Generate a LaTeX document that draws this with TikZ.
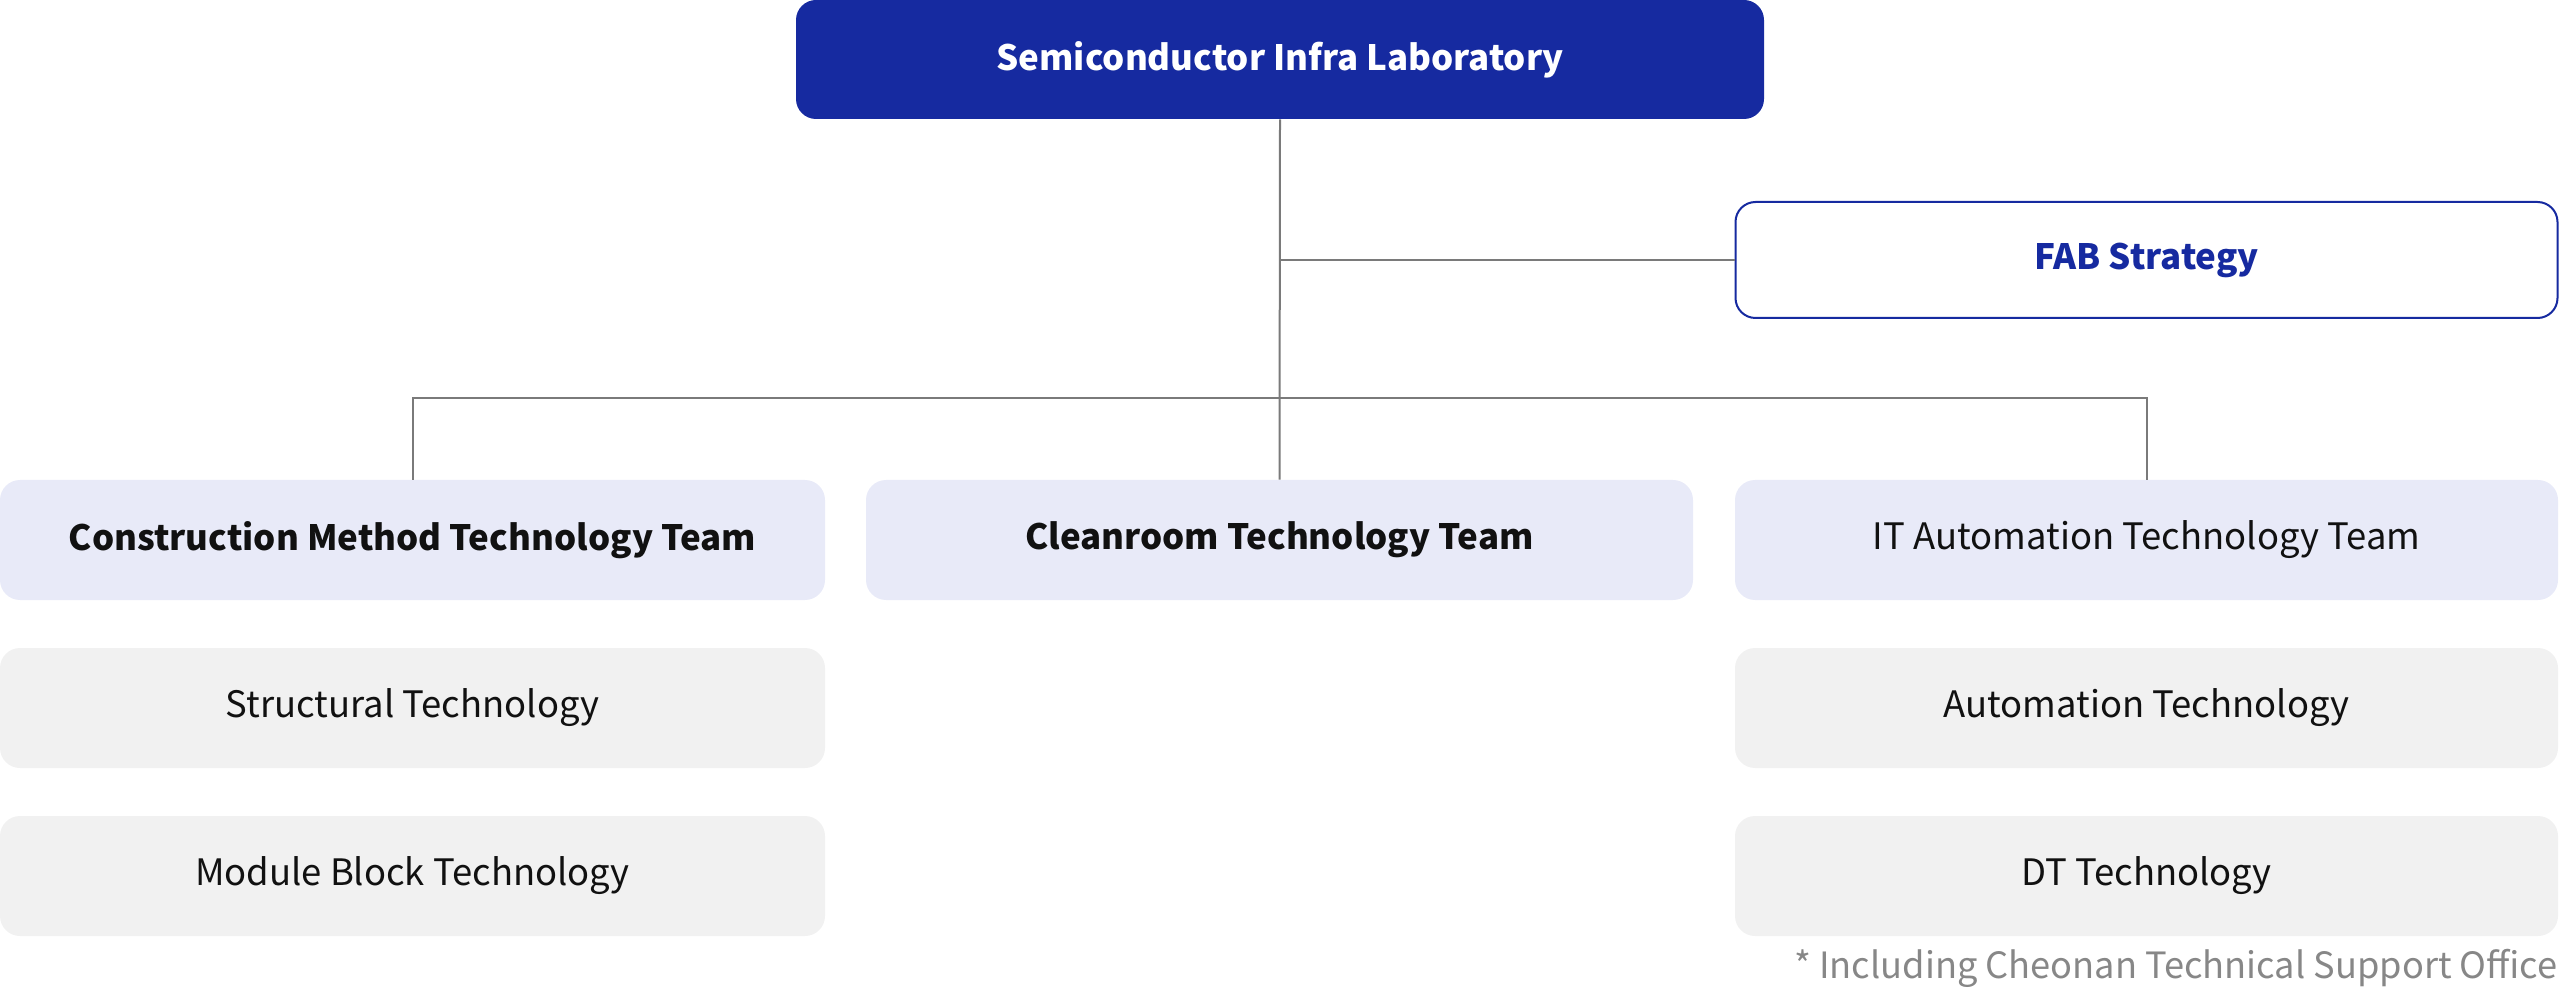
\documentclass[tikz,border=0pt]{standalone}
\usepackage{fontspec}
\setmainfont{Noto Sans CJK KR}
\definecolor{labblue}{RGB}{22,42,160}
\definecolor{teamfill}{RGB}{232,234,248}
\definecolor{subfill}{RGB}{241,241,241}
\definecolor{linegray}{RGB}{122,122,122}
\definecolor{notegray}{RGB}{135,135,135}
\definecolor{txt}{RGB}{17,17,17}
\newcommand{\lbl}[1]{\raisebox{-2.6pt}{#1}}
\tikzset{
  box/.style={rectangle, rounded corners=10pt, inner sep=0pt, font=\fontsize{18.2}{22}\selectfont},
  boldtxt/.style={font=\fontsize{17.45}{21}\selectfont\bfseries},
  topbox/.style={box, fill=labblue, text=white, boldtxt, minimum width=484pt, minimum height=59.5pt},
  fabbox/.style={box, draw=labblue, line width=1pt, fill=white, text=labblue, boldtxt, minimum width=411pt, minimum height=58pt},
  teambox/.style={box, fill=teamfill, text=txt, minimum width=412.5pt, minimum height=60pt},
  subbox/.style={box, fill=subfill, text=txt, minimum width=412.5pt, minimum height=60pt},
  conn/.style={draw=linegray, line width=1pt},
}
\begin{document}
\begin{tikzpicture}[x=0.5pt,y=-0.5pt]
\useasboundingbox (0,0) rectangle (2560,994);
\node[topbox] (lab) at (1280,59.5) {\lbl{Semiconductor Infra Laboratory}};
\node[fabbox] (fab) at (2146.5,260) {\lbl{FAB Strategy}};
\node[teambox, boldtxt] (cmt) at (412.5,540) {\lbl{Construction Method Technology Team}};
\node[teambox, boldtxt, minimum width=413.5pt] (crt) at (1279.5,540) {\lbl{Cleanroom Technology Team}};
\node[teambox, minimum width=411.5pt] (itt) at (2146.5,540) {\lbl{IT Automation Technology Team}};
\node[subbox] (st) at (412.5,708) {\lbl{Structural Technology}};
\node[subbox] (mb) at (412.5,876) {\lbl{Module Block Technology}};
\node[subbox, minimum width=411.5pt] (at) at (2146.5,708) {\lbl{Automation Technology}};
\node[subbox, minimum width=411.5pt] (dt) at (2146.5,876) {\lbl{DT Technology}};
\node[anchor=base east, inner sep=0pt, text=notegray, font=\fontsize{18.1}{22}\selectfont] (note) at (2558,978) {* Including Cheonan Technical Support Office};
\coordinate (bus) at (1280,398);
\draw[conn] (lab.south) -- (crt.north);
\draw[conn] (lab.south |- fab.west) -- (fab.west);
\draw[conn] (cmt.north) -- (cmt.north |- bus) -- (itt.north |- bus) -- (itt.north);
\end{tikzpicture}
\end{document}
